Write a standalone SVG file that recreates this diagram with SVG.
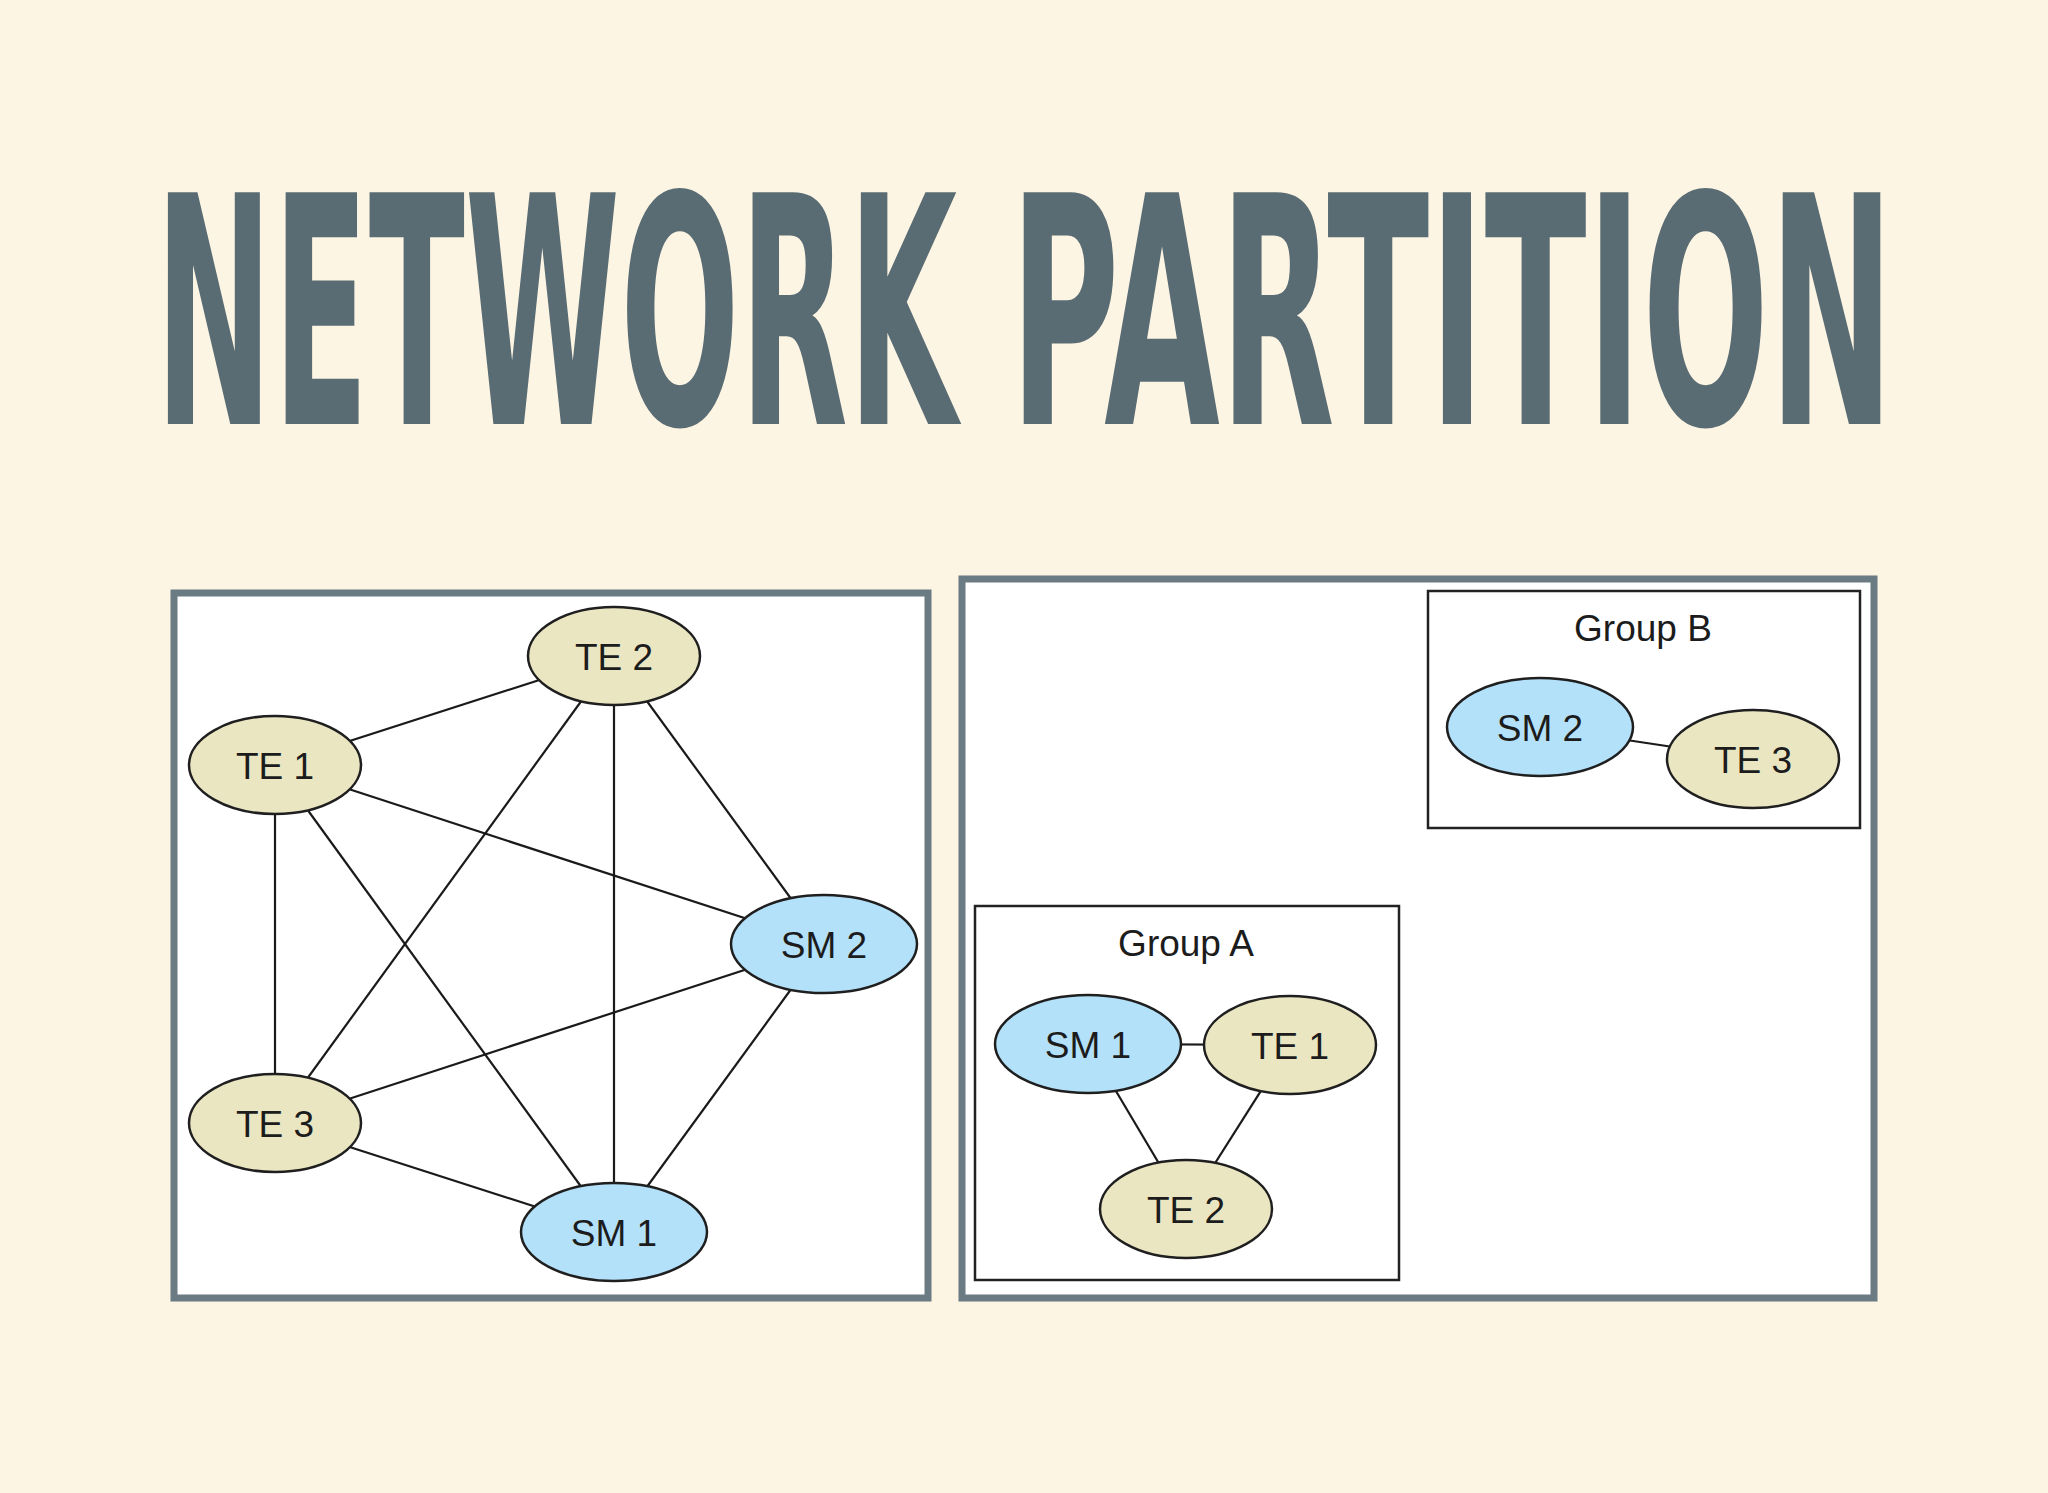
<svg xmlns="http://www.w3.org/2000/svg" width="2048" height="1493" viewBox="0 0 2048 1493">
<style>
.title{font-family:"DejaVu Sans Condensed","Liberation Sans Narrow","Liberation Sans",sans-serif;font-weight:bold;font-size:318px;fill:#5a6c73}
.panel{fill:#ffffff;stroke:#6a7b83;stroke-width:7}
.group{fill:none;stroke:#222222;stroke-width:2.5}
.te{fill:#ebe6c2;stroke:#1f1f1f;stroke-width:2.5}
.sm{fill:#b4e1fa;stroke:#1f1f1f;stroke-width:2.5}
.lbl{font-family:"Liberation Sans",Arial,sans-serif;font-size:37px;fill:#1c1c1c;text-anchor:middle}
.edge{stroke:#1a1a1a;stroke-width:2.2;fill:none}
</style>
<rect x="0" y="0" width="2048" height="1493" fill="#fdf5e4"/>
<g id="title">
<text class="title" x="155" y="424" textLength="802" lengthAdjust="spacingAndGlyphs">NETWORK</text>
<text class="title" x="1010" y="424" textLength="884" lengthAdjust="spacingAndGlyphs">PARTITION</text>
</g>
<g id="panel-left"><rect class="panel" x="174" y="593" width="754" height="705"/></g>
<g id="panel-right"><rect class="panel" x="962" y="579" width="912" height="719"/></g>
<g id="group-b"><rect class="group" x="1428" y="591" width="432" height="237"/><text class="lbl" x="1643" y="641">Group B</text></g>
<g id="group-a"><rect class="group" x="975" y="906" width="424" height="374"/><text class="lbl" x="1186" y="956">Group A</text></g>
<g id="connectors">
<line class="edge" x1="275" y1="765" x2="614" y2="656"/>
<line class="edge" x1="614" y1="656" x2="275" y2="1123"/>
<line class="edge" x1="614" y1="656" x2="614" y2="1232"/>
<line class="edge" x1="614" y1="656" x2="824" y2="944"/>
<line class="edge" x1="275" y1="765" x2="824" y2="944"/>
<line class="edge" x1="275" y1="765" x2="275" y2="1123"/>
<line class="edge" x1="275" y1="765" x2="614" y2="1232"/>
<line class="edge" x1="275" y1="1123" x2="824" y2="944"/>
<line class="edge" x1="275" y1="1123" x2="614" y2="1232"/>
<line class="edge" x1="824" y1="944" x2="614" y2="1232"/>
<line class="edge" x1="1540" y1="727" x2="1753" y2="759"/>
<line class="edge" x1="1088" y1="1044" x2="1290" y2="1045"/>
<line class="edge" x1="1088" y1="1044" x2="1186" y2="1209"/>
<line class="edge" x1="1290" y1="1045" x2="1186" y2="1209"/>
</g>
<g id="l-te2"><ellipse class="te" cx="614" cy="656" rx="86" ry="49"/><text class="lbl" x="614" y="670">TE 2</text></g>
<g id="l-te1"><ellipse class="te" cx="275" cy="765" rx="86" ry="49"/><text class="lbl" x="275" y="779">TE 1</text></g>
<g id="l-sm2"><ellipse class="sm" cx="824" cy="944" rx="93" ry="49"/><text class="lbl" x="824" y="958">SM 2</text></g>
<g id="l-te3"><ellipse class="te" cx="275" cy="1123" rx="86" ry="49"/><text class="lbl" x="275" y="1137">TE 3</text></g>
<g id="l-sm1"><ellipse class="sm" cx="614" cy="1232" rx="93" ry="49"/><text class="lbl" x="614" y="1246">SM 1</text></g>
<g id="b-sm2"><ellipse class="sm" cx="1540" cy="727" rx="93" ry="49"/><text class="lbl" x="1540" y="741">SM 2</text></g>
<g id="b-te3"><ellipse class="te" cx="1753" cy="759" rx="86" ry="49"/><text class="lbl" x="1753" y="773">TE 3</text></g>
<g id="a-sm1"><ellipse class="sm" cx="1088" cy="1044" rx="93" ry="49"/><text class="lbl" x="1088" y="1058">SM 1</text></g>
<g id="a-te1"><ellipse class="te" cx="1290" cy="1045" rx="86" ry="49"/><text class="lbl" x="1290" y="1059">TE 1</text></g>
<g id="a-te2"><ellipse class="te" cx="1186" cy="1209" rx="86" ry="49"/><text class="lbl" x="1186" y="1223">TE 2</text></g>
</svg>
